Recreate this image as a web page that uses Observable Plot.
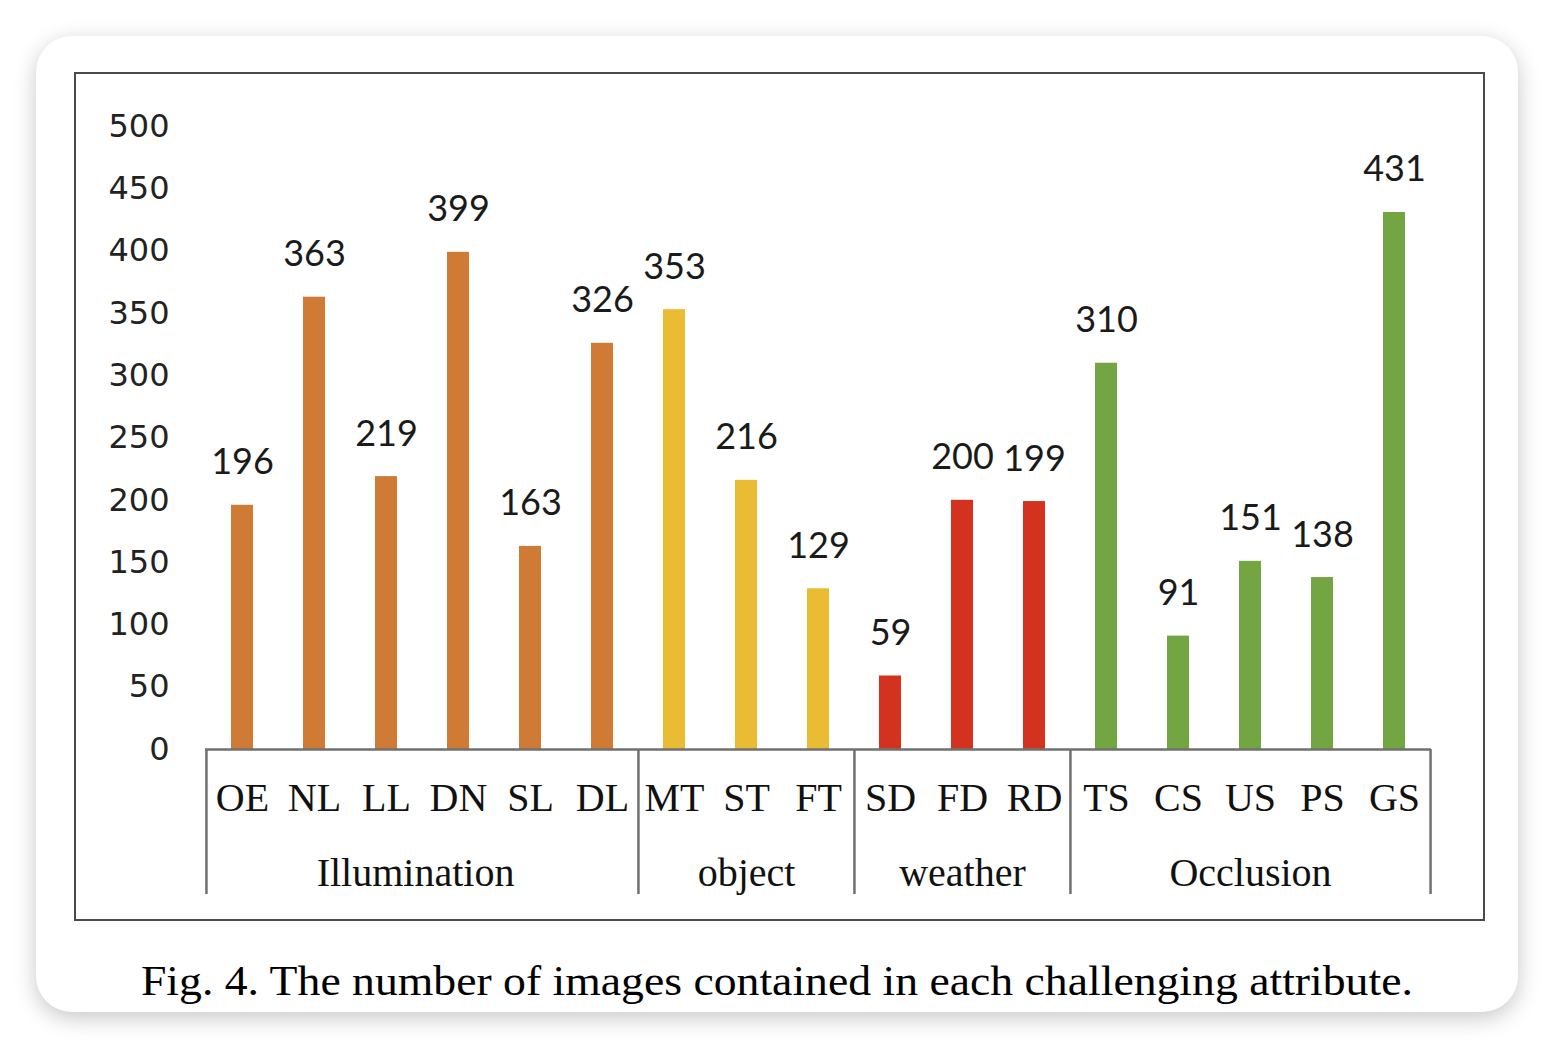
<!DOCTYPE html>
<html>
<head>
<meta charset="utf-8">
<script src="https://cdn.jsdelivr.net/npm/d3@7"></script>
<script src="https://cdn.jsdelivr.net/npm/@observablehq/plot@0.6"></script>
<style>
  html, body { margin: 0; padding: 0; background: #ffffff; }
  body { width: 1554px; height: 1048px; position: relative; overflow: hidden; }
  #card {
    position: absolute; left: 36px; top: 36px; width: 1482px; height: 976px;
    background: #ffffff; border-radius: 36px;
    box-shadow: 0 6px 22px rgba(0,0,0,0.22);
  }
  #chart {
    position: absolute; left: 38px; top: 36px; width: 1407px; height: 845px;
    border: 2px solid #4a4a4a;
  }
  #chart svg { display: block; }
  #caption {
    position: absolute; left: 0; width: 1482px; top: 920px; height: 50px;
    text-align: center; font-family: "Liberation Serif", "Times New Roman", serif;
    font-size: 42px; line-height: 50px; color: #000;
    transform: scaleX(1.088); transform-origin: 742px 0;
  }
</style>
</head>
<body>
<div id="card">
  <div id="chart"></div>
  <div id="caption">Fig. 4. The number of images contained in each challenging attribute.</div>
</div>
<script>
const categories = ["OE","NL","LL","DN","SL","DL","MT","ST","FT","SD","FD","RD","TS","CS","US","PS","GS"];
const values = [196,363,219,399,163,326,353,216,129,59,200,199,310,91,151,138,431];
const groupOf = ["Illumination","Illumination","Illumination","Illumination","Illumination","Illumination",
  "object","object","object","weather","weather","weather",
  "Occlusion","Occlusion","Occlusion","Occlusion","Occlusion"];
const groupNames = ["Illumination","object","weather","Occlusion"];
const groupFirst = ["OE","MT","SD","TS"];
const groupLast = ["DL","FT","RD","GS"];
const groupColors = ["#cf7a35","#e9bc33","#d3331e","#74a543"];
const yTicks = [0,50,100,150,200,250,300,350,400,450,500];

const data = categories.map((c, i) => ({cat: c, value: values[i], group: groupOf[i]}));
const groups = groupNames.map((g, i) => {
  const cats = categories.filter((c, j) => groupOf[j] === g);
  return {name: g, first: groupFirst[i], last: groupLast[i], cats};
});

const W = 1407, H = 845, mL = 129, mR = 52, mT = 52, mB = 170;
const bw = (W - mL - mR) / categories.length;
const half = bw / 2;

// label anchor: middle category (odd count) or left of the two middle ones (even count)
const groupLabel = groups.map(g => {
  const n = g.cats.length;
  if (n % 2 === 1) return {name: g.name, cat: g.cats[(n - 1) / 2], even: false};
  return {name: g.name, cat: g.cats[n / 2 - 1], even: true};
});

const serif = "Liberation Serif, Times New Roman, serif";
const ruleStyle = {stroke: "#707070", strokeWidth: 2.5};

const chart = Plot.plot({
  width: W, height: H,
  marginLeft: mL, marginRight: mR, marginTop: mT, marginBottom: mB,
  style: {fontFamily: "DejaVu Sans, sans-serif", fontSize: "32px", color: "#222", background: "transparent"},
  x: {domain: categories, padding: 0, axis: null},
  y: {domain: [0, 500], ticks: yTicks, tickSize: 0, tickPadding: 36, label: null, tickFormat: d => String(d)},
  color: {domain: groupNames, range: groupColors},
  marks: [
    Plot.barY(data, {x: "cat", y: "value", fill: "group", insetLeft: 25, insetRight: 25}),
    Plot.text(data, {x: "cat", y: "value", text: d => String(d.value), lineAnchor: "bottom", dy: -31,
      fontFamily: "Lato, Open Sans, sans-serif", fontSize: 36, fill: "#1a1a1a"}),
    Plot.ruleY([0], ruleStyle),
    Plot.ruleX(groups, {x: "first", y1: 0, y2: 0, dx: -half, insetBottom: -145, ...ruleStyle}),
    Plot.ruleX(groups.slice(-1), {x: "last", y1: 0, y2: 0, dx: half, insetBottom: -145, ...ruleStyle}),
    Plot.text(categories, {x: d => d, frameAnchor: "bottom", lineAnchor: "middle", dy: 49,
      text: d => d, fontFamily: serif, fontSize: 40, fill: "#111"}),
    Plot.text(groupLabel.filter(d => !d.even), {x: "cat", frameAnchor: "bottom", lineAnchor: "middle", dy: 124,
      text: "name", fontFamily: serif, fontSize: 40, fill: "#111"}),
    Plot.text(groupLabel.filter(d => d.even), {x: "cat", frameAnchor: "bottom", lineAnchor: "middle", dy: 124,
      dx: half - 7, text: "name", fontFamily: serif, fontSize: 40, fill: "#111"})
  ]
});
document.getElementById("chart").appendChild(chart);
</script>
</body>
</html>
